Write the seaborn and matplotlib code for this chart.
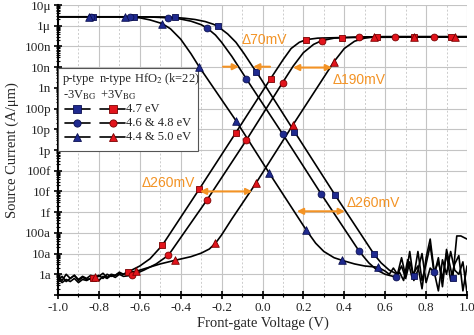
import numpy as np
import pandas as pd
import matplotlib
matplotlib.use('Agg')
import matplotlib.pyplot as plt
import seaborn as sns
from matplotlib.ticker import FixedLocator, FixedFormatter, LogLocator, MultipleLocator, NullFormatter, FormatStrFormatter
from matplotlib.patches import Rectangle
from matplotlib.lines import Line2D

sns.set_style('ticks')
plt.rcParams['font.family'] = ['Liberation Serif', 'DejaVu Serif']
plt.rcParams['mathtext.fontset'] = 'stix'
plt.rcParams['axes.unicode_minus'] = False

# ---------------- data (log10 of source current, A/um) ----------------
# p-type, 4.7 eV (blue squares)
p47_v = [-1.00, -0.83, -0.63, -0.48, -0.43, -0.38, -0.33, -0.28, -0.24, -0.22, -0.17, -0.13, -0.09, -0.05, -0.03,
         0.156, 0.356, 0.546, 0.58, 0.62, 0.66, 0.68, 0.70, 0.72, 0.74, 0.76, 0.78, 0.80, 0.82, 0.84, 0.86, 0.88,
         0.90, 0.93, 0.95, 0.97, 1.00]
p47_log = [-5.57, -5.57, -5.57, -5.58, -5.60, -5.64, -5.70, -5.80, -5.93, -6.02, -6.40, -6.80, -7.35, -7.95, -8.22,
           -11.11, -14.19, -17.04, -17.45, -17.8, -18.0, -17.6, -18.2, -17.4, -18.1, -16.9, -18.3, -17.5, -16.6, -18.0,
           -17.2, -18.6, -16.8, -18.2, -16.15, -16.15, -16.3]
p47_mv = [-0.83, -0.63, -0.43, -0.22, -0.03, 0.156, 0.356, 0.546, 0.74, 0.93]
p47_mlog = [-5.57, -5.57, -5.60, -6.02, -8.22, -11.11, -14.19, -17.04, -18.1, -18.2]

# p-type, 4.6 & 4.8 eV (blue circles)
p46_v = [-1.00, -0.84, -0.65, -0.55, -0.50, -0.46, -0.40, -0.35, -0.30, -0.27, -0.23, -0.20, -0.15, -0.10, -0.08,
         0.10, 0.288, 0.473, 0.52, 0.56, 0.60, 0.654, 0.67, 0.69, 0.71, 0.73, 0.76, 0.78, 0.80, 0.82, 0.84, 0.86,
         0.88, 0.90, 0.92, 0.94, 0.96, 0.98, 1.00]
p46_log = [-5.57, -5.57, -5.57, -5.58, -5.60, -5.62, -5.68, -5.78, -5.95, -6.12, -6.45, -6.80, -7.48, -8.24, -8.55,
           -11.25, -14.14, -16.89, -17.45, -17.8, -18.0, -18.14, -17.9, -18.3, -17.3, -18.1, -17.6, -18.7, -17.2,
           -16.3, -17.9, -17.4, -18.2, -17.0, -18.3, -17.5, -17.1, -18.8, -17.6]
p46_mv = [-0.84, -0.65, -0.46, -0.27, -0.08, 0.10, 0.288, 0.473, 0.654, 0.84]
p46_mlog = [-5.57, -5.57, -5.62, -6.12, -8.55, -11.25, -14.14, -16.89, -18.14, -17.9]

# p-type, 4.4 & 5.0 eV (blue triangles)
p44_v = [-1.00, -0.85, -0.67, -0.60, -0.55, -0.49, -0.45, -0.40, -0.35, -0.31, -0.13, 0.034, 0.215, 0.26, 0.30,
         0.35, 0.39, 0.45, 0.50, 0.565, 0.60, 0.62, 0.64, 0.66, 0.68, 0.70, 0.72, 0.74, 0.76, 0.78, 0.80, 0.82,
         0.84, 0.86, 0.88, 0.90, 0.92, 0.94, 0.96, 0.98, 1.00]
p44_log = [-5.57, -5.57, -5.58, -5.62, -5.72, -5.90, -6.15, -6.65, -7.35, -7.98, -10.58, -13.13, -15.88, -16.5,
           -16.9, -17.2, -17.33, -17.5, -17.6, -17.66, -17.85, -18.0, -17.7, -18.0, -17.2, -18.1, -16.9, -18.3,
           -17.8, -17.0, -18.4, -17.7, -17.9, -18.8, -17.3, -18.0, -16.9, -17.8, -18.0, -17.4, -18.9]
p44_mv = [-0.85, -0.67, -0.49, -0.31, -0.13, 0.034, 0.215, 0.39, 0.565]
p44_mlog = [-5.57, -5.58, -5.90, -7.98, -10.58, -13.13, -15.88, -17.33, -17.66]

# n-type, 4.7 eV (red squares)
n47_v = [-1.00, -0.98, -0.96, -0.94, -0.92, -0.90, -0.88, -0.86, -0.83, -0.80, -0.78, -0.76, -0.74, -0.72, -0.70,
         -0.68, -0.66, -0.60, -0.55, -0.49, -0.31, -0.13, 0.04, 0.10, 0.14, 0.18, 0.215, 0.27, 0.39, 0.56, 0.74,
         0.92, 1.00]
n47_log = [-18.3, -18.1, -18.35, -18.2, -18.05, -18.3, -18.15, -18.25, -18.19, -18.05, -18.2, -18.0, -18.1, -18.05,
           -17.95, -18.0, -17.9, -17.6, -17.25, -16.6, -13.9, -11.16, -8.55, -7.65, -7.1, -6.8, -6.67, -6.60, -6.57,
           -6.56, -6.55, -6.55, -6.55]
n47_mv = [-0.83, -0.66, -0.49, -0.31, -0.13, 0.04, 0.215, 0.39, 0.56, 0.74, 0.92]
n47_mlog = [-18.19, -17.9, -16.6, -13.9, -11.16, -8.55, -6.67, -6.57, -6.56, -6.55, -6.55]

# n-type, 4.6 & 4.8 eV (red circles)
n46_v = [-1.00, -0.98, -0.96, -0.94, -0.92, -0.90, -0.88, -0.86, -0.84, -0.82, -0.80, -0.78, -0.76, -0.74, -0.72,
         -0.70, -0.68, -0.64, -0.58, -0.52, -0.46, -0.27, -0.08, 0.098, 0.15, 0.20, 0.25, 0.29, 0.35, 0.47, 0.65,
         0.84, 1.00]
n46_log = [-18.2, -18.4, -18.25, -18.35, -18.2, -18.4, -18.25, -18.3, -18.2, -18.15, -18.3, -18.1, -18.2, -18.05,
           -18.15, -18.0, -18.1, -18.05, -17.8, -17.5, -17.08, -14.39, -11.54, -8.75, -7.95, -7.3, -6.9, -6.72, -6.6,
           -6.54, -6.53, -6.53, -6.53]
n46_mv = [-0.64, -0.46, -0.27, -0.08, 0.098, 0.29, 0.47, 0.65, 0.84]
n46_mlog = [-18.05, -17.08, -14.39, -11.54, -8.75, -6.72, -6.54, -6.53, -6.53]

# n-type, 4.4 & 5.0 eV (red triangles)
n44_v = [-1.00, -0.98, -0.96, -0.94, -0.92, -0.90, -0.88, -0.86, -0.84, -0.82, -0.80, -0.78, -0.76, -0.74, -0.72,
         -0.70, -0.68, -0.66, -0.62, -0.55, -0.50, -0.43, -0.35, -0.30, -0.26, -0.23, -0.20, -0.15, -0.03, 0.15,
         0.35, 0.40, 0.45, 0.50, 0.546, 0.74, 0.94, 1.00]
n44_log = [-18.1, -18.3, -18.0, -18.2, -18.05, -18.25, -18.1, -18.2, -18.05, -18.14, -18.1, -17.95, -18.15, -18.0,
           -18.05, -17.9, -18.0, -17.9, -17.86, -17.65, -17.5, -17.33, -17.15, -16.98, -16.78, -16.5, -16.1, -15.33,
           -13.57, -10.77, -7.73, -7.1, -6.75, -6.6, -6.53, -6.53, -6.53, -6.53]
n44_mv = [-0.82, -0.62, -0.43, -0.23, -0.03, 0.15, 0.35, 0.546, 0.74, 0.94]
n44_mlog = [-18.14, -17.86, -17.33, -16.5, -13.57, -10.77, -7.73, -6.53, -6.53, -6.53]

x_ticks = [-1.0, -0.8, -0.6, -0.4, -0.2, 0.0, 0.2, 0.4, 0.6, 0.8, 1.0]
y_tick_exp = [-19, -18, -17, -16, -15, -14, -13, -12, -11, -10, -9, -8, -7, -6, -5]
y_tick_labels = ['', '1a', '10a', '100a', '1f', '10f', '100f', '1p', '10p', '100p', '1n', '10n', '100n', '1\u03bc', '10\u03bc']
legend_rows = ['4.7 eV', '4.6 & 4.8 eV', '4.4 & 5.0 eV']

BLUE, BLUE_E = '#1f2a8f', '#0a0f50'
RED, RED_E = '#e2141c', '#7a0000'
ORANGE = '#f39325'

curves = [
    (p47_v, p47_log, p47_mv, p47_mlog, 's', BLUE, BLUE_E),
    (p46_v, p46_log, p46_mv, p46_mlog, 'o', BLUE, BLUE_E),
    (p44_v, p44_log, p44_mv, p44_mlog, '^', BLUE, BLUE_E),
    (n47_v, n47_log, n47_mv, n47_mlog, 's', RED, RED_E),
    (n46_v, n46_log, n46_mv, n46_mlog, 'o', RED, RED_E),
    (n44_v, n44_log, n44_mv, n44_mlog, '^', RED, RED_E),
]

fig = plt.figure(figsize=(4.74, 3.35), dpi=100)
ax = fig.add_axes([58 / 474, 40 / 335, 409 / 474, 290 / 335])
ax.set_yscale('log')

for v, lg, mv, mlg, mk, fc, ec in curves:
    df = pd.DataFrame({'V': v, 'I': 10 ** np.array(lg, dtype=float)})
    sns.lineplot(data=df, x='V', y='I', ax=ax, color='black', lw=1.2, sort=False, estimator=None, zorder=4)
    dm = pd.DataFrame({'V': mv, 'I': 10 ** np.array(mlg, dtype=float)})
    sz = 24 if mk != '^' else 30
    sns.scatterplot(data=dm, x='V', y='I', ax=ax, marker=mk, s=sz, color=fc, edgecolor=ec, linewidth=0.6, zorder=5)

ax.set_xlim(-1.0, 1.0)
ax.set_ylim(1e-19, 1e-5)

ax.xaxis.set_major_locator(FixedLocator(x_ticks))
ax.xaxis.set_major_formatter(FormatStrFormatter('%.1f'))
ax.xaxis.set_minor_locator(MultipleLocator(0.1))
ax.yaxis.set_major_locator(FixedLocator([10.0 ** e for e in y_tick_exp]))
ax.yaxis.set_major_formatter(FixedFormatter(y_tick_labels))
ax.yaxis.set_minor_locator(LogLocator(base=10, subs=np.arange(2, 10), numticks=30))
ax.yaxis.set_minor_formatter(NullFormatter())

ax.set_axisbelow(True)
ax.grid(which='major', color='#c4c4c4', lw=0.8, ls='-')
ax.xaxis.grid(which='minor', color='#cccccc', lw=0.7, ls=(0, (2, 2)))
ax.yaxis.grid(which='minor', visible=False)

for s in ['top', 'right']:
    ax.spines[s].set_visible(False)
for s in ['left', 'bottom']:
    ax.spines[s].set_linewidth(1.5)
    ax.spines[s].set_color('black')

ax.tick_params(which='major', direction='inout', length=6, width=1.2, labelsize=9.5, color='black', pad=2)
ax.tick_params(which='minor', direction='inout', length=3.5, width=0.8, color='black')

ax.set_xlabel('Front-gate Voltage (V)', fontsize=10.5, labelpad=2)
ax.set_ylabel('Source Current (A/\u03bcm)', fontsize=10.5, labelpad=4)

# ---- legend box (drawn in axes fraction) ----
T = ax.transAxes
ax.add_patch(Rectangle((0.0, 0.497), 0.342, 0.286, transform=T, facecolor='white', edgecolor='#555555', lw=0.8, zorder=3.5))
ax.text(0.012, 0.745, 'p-type', transform=T, fontsize=9, va='center', ha='left', zorder=6)
ax.text(0.103, 0.745, 'n-type', transform=T, fontsize=9, va='center', ha='left', zorder=6)
ax.text(0.185, 0.745, 'HfO$_2$ (k=22)', transform=T, fontsize=9, va='center', ha='left', zorder=6)
ax.text(0.012, 0.690, '-3V$_{\\mathrm{BG}}$', transform=T, fontsize=9, va='center', ha='left', zorder=6)
ax.text(0.103, 0.690, '+3V$_{\\mathrm{BG}}$', transform=T, fontsize=9, va='center', ha='left', zorder=6)
row_y = [0.641, 0.593, 0.545]
for (lab, mk, yy) in zip(legend_rows, ['s', 'o', '^'], row_y):
    for x0, x1, fc, ec in [(0.017, 0.078, BLUE, BLUE_E), (0.103, 0.164, RED, RED_E)]:
        ax.add_line(Line2D([x0, x1], [yy, yy], transform=T, color='black', lw=1.2, zorder=6))
        ax.add_line(Line2D([(x0 + x1) / 2], [yy], transform=T, marker=mk, markersize=5.2 if mk != '^' else 5.8,
                           markerfacecolor=fc, markeredgecolor=ec, markeredgewidth=0.6, lw=0, zorder=7))
    ax.text(0.166, yy, lab, transform=T, fontsize=9, va='center', ha='left', zorder=6)

# ---- orange annotations ----
akw = dict(fontsize=10, color=ORANGE, family=['Liberation Sans', 'DejaVu Sans'], va='center', zorder=8)
ax.text(-0.10, 10 ** -6.67, '\u039470mV', ha='left', **akw)
ax.text(0.345, 10 ** -8.6, '\u0394190mV', ha='left', **akw)
ax.text(-0.59, 10 ** -13.57, '\u0394260mV', ha='left', **akw)
ax.text(0.413, 10 ** -14.58, '\u0394260mV', ha='left', **akw)

def arrow(x0, x1, e, style):
    ax.annotate('', xy=(x1, 10 ** e), xytext=(x0, 10 ** e),
                arrowprops=dict(arrowstyle=style, color=ORANGE, lw=1.5, mutation_scale=9,
                                shrinkA=0, shrinkB=0), zorder=8)

arrow(-0.193, -0.115, -7.98, '-|>')
arrow(0.037, -0.046, -7.98, '-|>')
arrow(0.149, 0.34, -8.02, '<|-|>')
arrow(-0.306, -0.05, -14.0, '<|-|>')
arrow(0.168, 0.403, -14.96, '<|-|>')

fig.savefig('out.png', dpi=100)
